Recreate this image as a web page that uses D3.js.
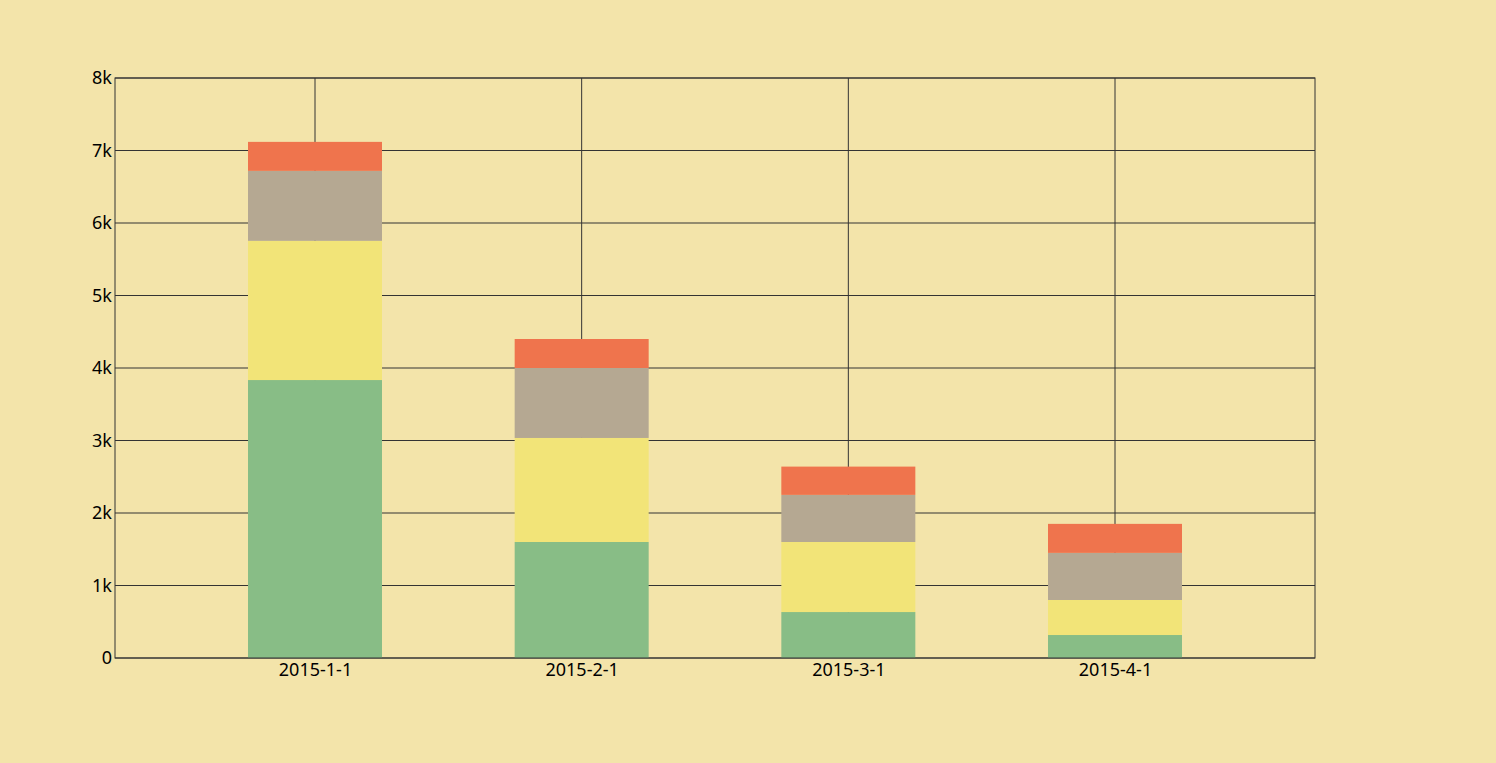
<!DOCTYPE html>
<html><head><meta charset="utf-8">
<script src="https://cdn.jsdelivr.net/npm/d3@7"></script>
<style>
body { margin: 0; background: #f3e4aa; }
svg text { font-family: "Noto Sans", "DejaVu Sans", sans-serif; font-size: 18px; fill: #000; }
</style></head>
<body><svg width="1496" height="763"></svg>
<script>
const dates = ['2015-1-1', '2015-2-1', '2015-3-1', '2015-4-1'];
const green = [3834, 1600, 634, 317];
const yellow = [1920, 1435, 966, 483];
const grey = [965, 965, 650, 650];
const red = [400, 400, 390, 400];
const yTicks = [0, 1000, 2000, 3000, 4000, 5000, 6000, 7000, 8000];
const colors = ['#88bd86', '#f2e478', '#b5a892', '#ef744d'];

const plotL = 115, plotR = 1315, plotT = 78, plotB = 658;
const svg = d3.select('svg');

const x = d3.scalePoint().domain(dates).range([plotL, plotR]).padding(0.75);
const y = d3.scaleLinear().domain([0, 8000]).range([plotB, plotT]);
const barW = 134;

const rows = dates.map((d, i) => ({ date: d, a: green[i], b: yellow[i], c: grey[i], e: red[i] }));
const stacked = d3.stack().keys(['a', 'b', 'c', 'e'])(rows);

// grid
svg.append('g').selectAll('line').data(yTicks).join('line')
	.attr('x1', plotL).attr('x2', plotR)
	.attr('y1', (d) => y(d)).attr('y2', (d) => y(d))
	.attr('stroke', '#333').attr('stroke-width', 1);
svg.append('g').selectAll('line').data(dates).join('line')
	.attr('x1', (d) => x(d)).attr('x2', (d) => x(d))
	.attr('y1', plotT).attr('y2', plotB)
	.attr('stroke', '#333');

// bars
svg.append('g').selectAll('g').data(stacked).join('g')
	.attr('fill', (d, i) => colors[i])
	.selectAll('rect').data((d) => d).join('rect')
	.attr('x', (d) => x(d.data.date) - barW / 2)
	.attr('width', barW)
	.attr('y', (d) => y(d[1]))
	.attr('height', (d) => y(d[0]) - y(d[1]));

// frame
svg.append('rect').attr('x', plotL).attr('y', plotT)
	.attr('width', plotR - plotL).attr('height', plotB - plotT)
	.attr('fill', 'none').attr('stroke', '#333');

// axes
const yAxis = svg.append('g').attr('transform', `translate(${plotL},0)`)
	.call(d3.axisLeft(y).tickValues(yTicks).tickSize(0).tickPadding(3)
		.tickFormat((d) => (d === 0 ? '0' : d / 1000 + 'k')));
yAxis.select('.domain').remove();

const xAxis = svg.append('g').attr('transform', `translate(0,${plotB})`)
	.call(d3.axisBottom(x).tickSize(0).tickPadding(5));
xAxis.select('.domain').remove();
svg.selectAll('.tick text').style('font-size', '18px').style('font-family', '"Noto Sans", "DejaVu Sans", sans-serif');
</script></body></html>
